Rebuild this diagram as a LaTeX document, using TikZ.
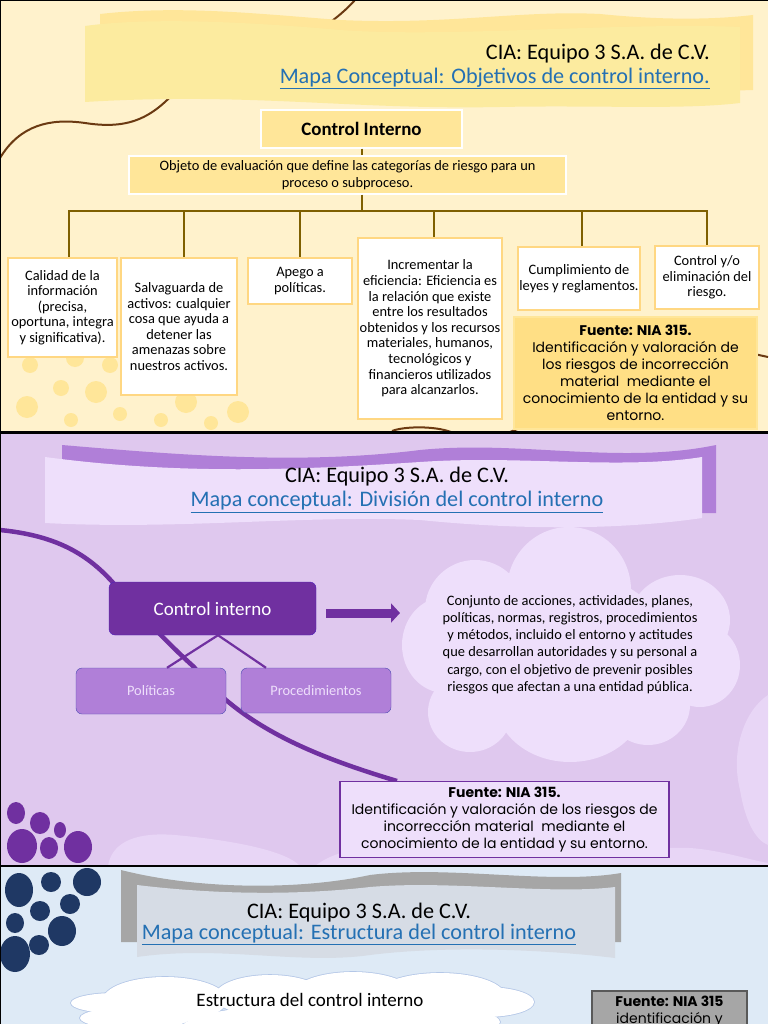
\documentclass[tikz,border=0pt]{standalone}
\usepackage{fontspec}
\setmainfont{Carlito}
\newfontfamily\gothicfont{Poppins}
\usepackage{xcolor}
\usetikzlibrary{arrows.meta}
\definecolor{cream}{HTML}{FFF2CC}
\definecolor{sand}{HTML}{FFE699}
\definecolor{lemon}{HTML}{FCEB9F}
\definecolor{gold}{HTML}{FFDF85}
\definecolor{brown}{HTML}{6B3A12}
\definecolor{olive}{HTML}{7F6000}
\definecolor{lilac}{HTML}{DFC8EE}
\definecolor{pale}{HTML}{EEDFFB}
\definecolor{mauve}{HTML}{B07FD8}
\definecolor{violet}{HTML}{7030A0}
\definecolor{sky}{HTML}{DEEAF6}
\definecolor{slate}{HTML}{D6DCE5}
\definecolor{navy}{HTML}{1F3864}
\definecolor{link}{HTML}{2470B3}
\definecolor{cloudline}{HTML}{B4C7E7}
\tikzstyle{title}=[inner sep=0pt,font=\fontsize{22.2}{24}\selectfont]
\tikzstyle{head}=[rectangle,draw=white,fill=sand,line width=1.2pt,inner sep=0pt,align=center]
\tikzstyle{leaf}=[rectangle,draw=sand!85!orange,fill=white,line width=1.6pt,inner sep=0pt,align=center,font=\fontsize{14.4}{15.6}\selectfont]
\tikzstyle{source}=[rectangle,inner sep=0pt,align=center,font=\gothicfont\fontsize{14}{17}\selectfont]
\tikzstyle{stem}=[olive,line width=2.2pt]
\tikzstyle{purplebox}=[rectangle,rounded corners=6pt,draw=blue!40!gray,fill=mauve,inner sep=0pt,text=pale,font=\fontsize{14.4}{16}\selectfont]
\newcommand{\maplink}[1]{\textcolor{link}{\underline{#1}}}
\begin{document}
\begin{tikzpicture}[x=1pt,y=-1pt]
        \useasboundingbox (0,0) rectangle (768,1024);
        \clip (0,0) rectangle (768,1024);

        % first panel
        \fill [cream] (0,0) rectangle (768,433);
        \draw [brown,line width=2pt] (0,158) .. controls (20,125) and (50,118) .. (85,123)
              .. controls (130,130) and (155,118) .. (185,80) .. controls (240,60) and (310,50) .. (355,0);
        \draw [brown,line width=2pt] (745,352) -- (768,357);
        \draw [brown,line width=2pt] (392,431) .. controls (405,426) and (435,426) .. (451,432);
        \draw [brown,line width=2pt] (510,432) -- (520,428);
        \foreach \cx/\cy/\cr in {30/365/8,75/358/9,110/365/8,61/388/8,96/392/11,27/407/11,71/420/7,120/414/7,161/420/7,186/402/11,211/423/7,238/412/11}
          \fill [sand] (\cx,\cy) circle (\cr);
        \fill [sand] (100,14) .. controls (180,5) and (260,14) .. (340,20) .. controls (450,25) and (520,10) .. (600,14) .. controls (660,20) and (710,20) .. (753,15)
              -- (753,90) -- (600,95) -- (100,90) -- cycle;
        \fill [lemon] (85,26) .. controls (150,17) and (250,22) .. (340,30) .. controls (450,38) and (620,22) .. (740,27)
              -- (740,103) .. controls (680,110) and (600,105) .. (500,107) .. controls (350,110) and (250,92) .. (85,102) -- cycle;
        \node at (710,66.5) [title,anchor=east,align=right] (titleone) {CIA: Equipo 3 S.A. de C.V.\\\maplink{Mapa Conceptual: Objetivos de control interno.}};

        \node at (361.5,129) [head,minimum width=201pt,minimum height=38pt,font=\bfseries\fontsize{18.9}{20}\selectfont] (ci) {Control Interno};
        \node at (347.5,175) [head,minimum width=437pt,minimum height=38pt,font=\fontsize{14.4}{17}\selectfont] (objeto) {Objeto de evaluación que define las categorías de riesgo para un\\proceso o subproceso.};
        \coordinate (bus) at (362,211);

        \node at (62.5,307.5) [leaf,minimum width=109pt,minimum height=99pt] (calidad) {Calidad de la\\información\\(precisa,\\oportuna, integra\\y significativa).};
        \node at (179,326.5) [leaf,minimum width=116pt,minimum height=137pt] (activos) {Salvaguarda de\\activos: cualquier\\cosa que ayuda a\\detener las\\amenazas sobre\\nuestros activos.};
        \node at (300,281) [leaf,minimum width=104pt,minimum height=46pt] (apego) {Apego a\\políticas.};
        \node at (430,328.5) [leaf,minimum width=144pt,minimum height=181pt] (eficiencia) {Incrementar la\\eficiencia: Eficiencia es\\la relación que existe\\entre los resultados\\obtenidos y los recursos\\materiales, humanos,\\tecnológicos y\\financieros utilizados\\para alcanzarlos.};
        \node at (579,278.5) [leaf,minimum width=122pt,minimum height=63pt] (leyes) {Cumplimiento de\\leyes y reglamentos.};
        \node at (707,277.5) [leaf,minimum width=104pt,minimum height=63pt] (riesgo) {Control y/o\\eliminación del\\riesgo.};
        \node at (635.5,373) [source,draw=sand,line width=1.4pt,fill=gold,minimum width=243pt,minimum height=112pt] (fuenteone) {{\bfseries Fuente: NIA 315.}\\Identificación y valoración de\\los riesgos de incorrección\\material\ \ mediante el\\conocimiento de la entidad y su\\entorno.};

        \draw [stem] ([xshift=.5pt]ci.south) -- ([xshift=14.5pt]objeto.north);
        \draw [stem] ([xshift=14.5pt]objeto.south) -- (bus);
        \draw [stem] (bus) -| ([xshift=6.5pt]calidad.north);
        \draw [stem] (bus) -| ([xshift=5pt]activos.north);
        \draw [stem] (bus) -| (apego.north);
        \draw [stem] (bus) -| ([xshift=4pt]eficiencia.north);
        \draw [stem] (bus) -| ([xshift=3pt]leyes.north);
        \draw [stem] (bus) -| (riesgo.north);

        % second panel
        \fill [lilac] (0,433) rectangle (768,866);
        \fill [pale!60!lilac] (108,866) .. controls (112,840) and (140,832) .. (175,835) .. controls (230,840) and (285,850) .. (300,866) -- cycle;
        \fill [pale!60!lilac] (315,866) .. controls (335,850) and (370,845) .. (400,845) -- (690,848) .. controls (720,850) and (750,860) .. (768,863) -- (768,866) -- cycle;
        \fill [pale!60!lilac] (768,695) .. controls (745,710) and (730,750) .. (740,790) .. controls (745,820) and (755,840) .. (768,845) -- cycle;
        \draw [violet,line width=4.5pt] (0,530) .. controls (50,535) and (85,550) .. (115,585)
              .. controls (150,625) and (175,650) .. (194,667) .. controls (240,725) and (310,755) .. (397,781);
        \foreach \cx/\cy/\rx/\ry in {16/813/9/11,40/823/10/11,60/830/6/8,22/846/15/17,49/848/9/11,78/847/14/16}
          \fill [violet] (\cx,\cy) ellipse ({\rx} and {\ry});
        \fill [mauve] (62,445) .. controls (180,455) and (300,465) .. (420,450) .. controls (520,440) and (620,465) .. (716,445) -- (716,513) -- (62,513) -- cycle;
        \fill [pale] (45,457) .. controls (180,475) and (300,470) .. (420,462) .. controls (520,455) and (620,470) .. (702,457)
              -- (702,518) .. controls (620,530) and (520,530) .. (420,520) .. controls (300,515) and (180,530) .. (45,523) -- cycle;
        \node at (397,490) [title,align=center] (titletwo) {CIA: Equipo 3 S.A. de C.V.\\\maplink{Mapa conceptual: División del control interno}};

        \foreach \cx/\cy/\rx/\ry in {569/590/62/63,475/610/50/50,445/645/43/48,470/712/42/40,570/700/75/62,648/705/42/40,680/620/50/45,700/665/40/42,560/650/110/80}
          \fill [pale] (\cx,\cy) ellipse ({\rx} and {\ry});
        \node at (570,644.5) [inner sep=0pt,align=center,font=\fontsize{14.4}{17.3}\selectfont] (nube) {Conjunto de acciones, actividades, planes,\\políticas, normas, registros, procedimientos\\y métodos, incluido el entorno y actitudes\\que desarrollan autoridades y su personal a\\cargo, con el objetivo de prevenir posibles\\riesgos que afectan a una entidad pública.};

        \node at (212.5,608.5) [rectangle,rounded corners=6pt,draw=blue!30!violet,fill=violet,text=white,minimum width=207pt,minimum height=53pt,inner sep=0pt,font=\fontsize{19}{21}\selectfont] (control) {Control interno};
        \node at (151,691) [purplebox,minimum width=150pt,minimum height=46pt] (politicas) {Políticas};
        \node at (316,690.5) [purplebox,minimum width=150pt,minimum height=45pt] (procedimientos) {Procedimientos};
        \draw [violet,line width=2.2pt] ([xshift=5.5pt]control.south) -- ([xshift=16pt]politicas.north);
        \draw [violet,line width=2.2pt] ([xshift=5.5pt]control.south) -- ([xshift=-50pt]procedimientos.north);

        \coordinate (flecha) at (326,613);
        \coordinate (flechab) at (400,613);
        \draw [violet,line width=9pt,-{Triangle[length=9pt,width=19pt]}] (flecha) -- (flechab);

        \node at (504.5,819.5) [source,draw=violet,line width=1.8pt,fill=pale,minimum width=329pt,minimum height=76pt] (fuentetwo) {{\bfseries Fuente: NIA 315.}\\Identificación y valoración de los riesgos de\\incorrección material\ \ mediante el\\conocimiento de la entidad y su entorno.};

        % third panel
        \fill [sky] (0,866) rectangle (768,1024);
        \foreach \cx/\cy/\rx/\ry in {19/890/14/17,51/882/10/10,87/882/14/14,70/904/10/10,40/911/10/10,15/923/9/10,62/931/14/15,39/945/10/10,15/954/15/18}
          \fill [navy] (\cx,\cy) ellipse ({\rx} and {\ry});
        \fill [gray!70] (121,870) .. controls (200,890) and (300,890) .. (370,875) .. controls (450,865) and (550,885) .. (621,873) -- (621,942) -- (121,942) -- cycle;
        \fill [slate] (137,885) .. controls (220,895) and (300,895) .. (370,887) .. controls (450,880) and (550,895) .. (615,887)
              -- (615,958) .. controls (550,950) and (450,945) .. (370,955) .. controls (300,965) and (220,945) .. (137,957) -- cycle;
        \node at (359,924) [title,align=center,font=\fontsize{22.2}{21}\selectfont] (titlethree) {CIA: Equipo 3 S.A. de C.V.\\\maplink{Mapa conceptual: Estructura del control interno}};

        \foreach \cx/\cy/\rx/\ry in {165/1000/62/23,270/996/55/21,353/994/60/22,440/996/65/23,485/1002/49/15,115/1003/44/10,135/1018/55/11,430/1022/70/15,300/1030/120/25}
          \draw [cloudline,line width=1.6pt] (\cx,\cy) ellipse ({\rx} and {\ry});
        \foreach \cx/\cy/\rx/\ry in {165/1000/62/23,270/996/55/21,353/994/60/22,440/996/65/23,485/1002/49/15,115/1003/44/10,135/1018/55/11,430/1022/70/15,300/1030/120/25}
          \fill [white] (\cx,\cy) ellipse ({\rx} and {\ry});
        \node at (310,1000) [inner sep=0pt,font=\fontsize{19}{21}\selectfont] (estructura) {Estructura del control interno};

        \node at (669.5,1012) [source,draw=gray!70!black,line width=1.8pt,fill=gray!70,minimum width=155pt,minimum height=42pt] (fuentethree) {{\bfseries Fuente: NIA 315}\\identificación y};

        % panel borders
        \draw [black,line width=2pt] (0,0) -- (768,0);
        \draw [black,line width=2.5pt] (0,432.5) -- (768,432.5);
        \draw [black,line width=2.5pt] (0,866) -- (768,866);
        \draw [black,line width=2pt] (0,0) -- (0,1024);
      \end{tikzpicture}
\end{document}
